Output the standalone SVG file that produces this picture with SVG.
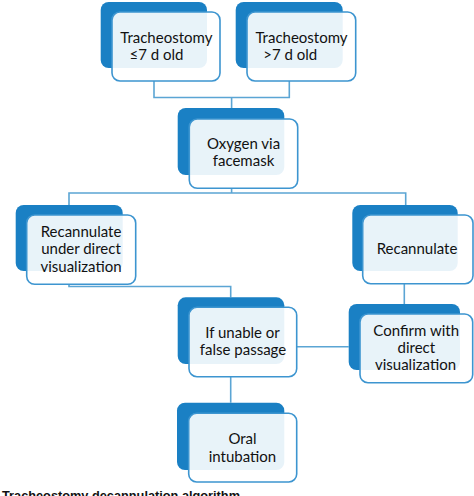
<svg xmlns="http://www.w3.org/2000/svg" width="474" height="496" viewBox="0 0 474 496">
<style>
.back{fill:#1a80c4}
.front{fill:#ffffff;fill-opacity:0.9;stroke:#3d95d0;stroke-width:1.6}
.lbl{font-family:Lato,"Open Sans",sans-serif;font-size:15px;fill:#111;text-anchor:middle}
.conn{fill:none;stroke:#5ba5d4;stroke-width:1.6}
.cap{font-family:"Liberation Sans",Arial,sans-serif;font-size:13px;font-weight:bold;fill:#111}
</style>
<rect width="474" height="496" fill="#fff"/>
<g id="connectors">
<path class="conn" d="M154,81 V97.5 H289.3 V81"/>
<path class="conn" d="M231.6,97.5 V119"/>
<path class="conn" d="M231.6,188.3 V193 M69,205 V193 H405.7 V205"/>
<path class="conn" d="M69,284 V286.5 H230.7 V297.3"/>
<path class="conn" d="M404.3,283.7 V304"/>
<path class="conn" d="M296.7,346.7 H348.7"/>
<path class="conn" d="M230.7,376.7 V402.7"/>
</g>
<g id="n1">
<rect class="back" x="100.7" y="2" width="106.3" height="66" rx="8"/>
<rect class="front" x="112" y="12" width="108" height="69" rx="8"/>
<text class="lbl" x="166.3" y="43.3">Tracheostomy</text>
<text class="lbl" x="156.5" y="60">≤7 d old</text>
</g>
<g id="n2">
<rect class="back" x="235.7" y="2" width="107" height="66" rx="8"/>
<rect class="front" x="247" y="12" width="108.7" height="69" rx="8"/>
<text class="lbl" x="301.5" y="43.3">Tracheostomy</text>
<text class="lbl" x="290.3" y="60">&gt;7 d old</text>
</g>
<g id="n3">
<rect class="back" x="177.7" y="108" width="106.6" height="67" rx="8"/>
<rect class="front" x="189.3" y="119" width="108.4" height="69.3" rx="8"/>
<text class="lbl" x="243.6" y="149.3">Oxygen via</text>
<text class="lbl" x="243.5" y="165.7">facemask</text>
</g>
<g id="n4">
<rect class="back" x="15.7" y="205" width="107" height="66" rx="8"/>
<rect class="front" x="26.7" y="215" width="109" height="69.3" rx="8"/>
<text class="lbl" x="81" y="236.7">Recannulate</text>
<text class="lbl" x="81" y="254">under direct</text>
<text class="lbl" x="81" y="271.5">visualization</text>
</g>
<g id="n5">
<rect class="back" x="352.3" y="205" width="105.4" height="66" rx="8"/>
<rect class="front" x="362.7" y="215" width="110.3" height="68.7" rx="8"/>
<text class="lbl" x="417" y="254">Recannulate</text>
</g>
<g id="n6">
<rect class="back" x="177.7" y="297.3" width="106.6" height="66.7" rx="8"/>
<rect class="front" x="189" y="307.3" width="107.7" height="69.4" rx="8"/>
<text class="lbl" x="242.5" y="338.3">If unable or</text>
<text class="lbl" x="243" y="355">false passage</text>
</g>
<g id="n7">
<rect class="back" x="348.7" y="304" width="111.3" height="66" rx="8"/>
<rect class="front" x="360" y="314" width="112.7" height="68.7" rx="8"/>
<text class="lbl" x="416.2" y="336">Confirm with</text>
<text class="lbl" x="416.3" y="352.7">direct</text>
<text class="lbl" x="415.5" y="370">visualization</text>
</g>
<g id="n8">
<rect class="back" x="177" y="402.7" width="107.3" height="67.3" rx="8"/>
<rect class="front" x="188.7" y="413.3" width="108" height="68.7" rx="8"/>
<text class="lbl" x="242.5" y="444.3">Oral</text>
<text class="lbl" x="242.5" y="461.7">intubation</text>
</g>
<text class="cap" x="2" y="500" textLength="238" lengthAdjust="spacingAndGlyphs">Tracheostomy decannulation algorithm</text>
</svg>
